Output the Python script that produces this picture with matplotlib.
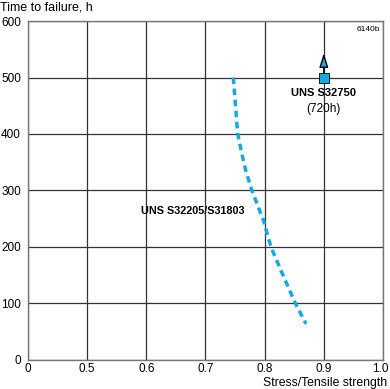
import numpy as np
import matplotlib.pyplot as plt
import matplotlib.transforms as mtransforms

plt.rcParams['font.family'] = ['Liberation Sans', 'DejaVu Sans']

# x axis is not linear: 0, then 0.5 .. 1.0 evenly spaced
x_ticks = [0, 0.5, 0.6, 0.7, 0.8, 0.9, 1.0]
x_labels = ["0", "0.5", "0.6", "0.7", "0.8", "0.9", "1.0"]
y_ticks = [0, 100, 200, 300, 400, 500, 600]

# UNS S32205/S31803 curve
duplex_stress = [0.747, 0.7544, 0.7612, 0.7679, 0.778, 0.7977, 0.8107, 0.8298, 0.8512, 0.8698]
duplex_hours = [500, 401, 366, 336, 301, 248, 200, 153, 102, 64]

# UNS S32750 point (no failure, 720h)
super_stress = [0.9]
super_hours = [500]

blue = "#18a8e0"


def pos(s):
    s = np.asarray(s, dtype=float)
    return np.where(s < 0.5, s / 0.5, (s - 0.4) / 0.1)


fig = plt.figure(figsize=(3.9, 3.89), dpi=100)
ax = fig.add_axes([0.0718, 0.0746, 0.9102, 0.8714])

ax.set_xlim(0, 6)
ax.set_ylim(0, 600)
ax.set_xticks(pos(x_ticks))
ax.set_xticklabels(x_labels)
ax.set_yticks(y_ticks)
ax.tick_params(length=0, labelsize=8.5)
ax.tick_params(axis="x", pad=2)
ax.tick_params(axis="y", pad=5)
ax.grid(True, color="#333333", linewidth=0.9)
for sp in ax.spines.values():
    sp.set_color("#777777")
    sp.set_linewidth(1)

# nudge last tick label so it stays inside the figure
last = ax.get_xticklabels()[-1]
last.set_transform(last.get_transform() +
                   mtransforms.ScaledTranslation(-3 / 100, 0, fig.dpi_scale_trans))

px = pos(duplex_stress)
ax.plot(px, duplex_hours, color=blue, linewidth=2.5, dashes=(1.9, 1.3), zorder=3)

sx = pos(super_stress)
ax.annotate("", xy=(sx[0], 543), xytext=(sx[0], super_hours[0]),
            arrowprops=dict(arrowstyle="-|>,head_length=0.85,head_width=0.27",
                            color="black", lw=1, mutation_scale=10,
                            fc=blue, ec="black", shrinkA=0, shrinkB=0),
            zorder=4)
ax.plot(sx, super_hours, marker="s", markersize=7.5, color=blue,
        markeredgecolor="black", markeredgewidth=0.6, linestyle="none", zorder=5)

ax.text(sx[0], 473, "UNS S32750", ha="center", va="center",
        fontsize=8, fontweight="bold")
ax.text(sx[0], 445, "(720h)", ha="center", va="center", fontsize=8.5)
ax.text(2.78, 264, "UNS S32205/S31803", ha="center", va="center",
        fontsize=7.8, fontweight="bold")
ax.text(5.95, 585, "6140b", ha="right", va="center", fontsize=6)

fig.text(0.0, 0.995, "Time to failure, h", ha="left", va="top", fontsize=9)
fig.text(0.992, 0.0, "Stress/Tensile strength", ha="right", va="bottom",
         fontsize=8.8)

fig.savefig("out.png", dpi=100)
